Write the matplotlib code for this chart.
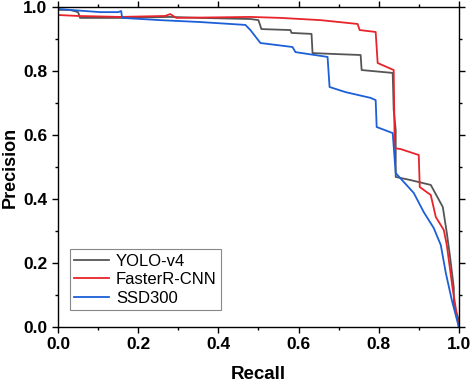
import numpy as np
import matplotlib
matplotlib.use('Agg')
import matplotlib.pyplot as plt
from matplotlib.ticker import MultipleLocator

plt.rcParams['font.family'] = ['Liberation Sans', 'DejaVu Sans']

# YOLO-v4
r_yolo = [0.0, 0.03, 0.05, 0.055, 0.155, 0.28, 0.355, 0.48, 0.50, 0.5075, 0.58, 0.5825,
          0.6325, 0.635, 0.6925, 0.755, 0.7575, 0.835, 0.8375, 0.8425, 0.8425, 0.88, 0.93,
          0.96, 0.97, 0.9775, 0.9875, 0.9875, 1.0, 1.0]
p_yolo = [0.991, 0.991, 0.984, 0.966, 0.966, 0.969, 0.966, 0.9625, 0.959, 0.931, 0.928, 0.919,
          0.916, 0.856, 0.853, 0.85, 0.803, 0.794, 0.678, 0.616, 0.469, 0.459, 0.444,
          0.375, 0.294, 0.225, 0.122, 0.069, 0.022, 0.0]

# FasterR-CNN
r_frcnn = [0.0, 0.05, 0.155, 0.2675, 0.28, 0.295, 0.48, 0.555, 0.655, 0.7475, 0.7525, 0.7925,
           0.7975, 0.8375, 0.84, 0.855, 0.9, 0.9025, 0.93, 0.9425, 0.9625, 0.97, 0.985, 1.0]
p_frcnn = [0.975, 0.972, 0.969, 0.972, 0.978, 0.966, 0.969, 0.966, 0.959, 0.947, 0.928, 0.922,
           0.825, 0.803, 0.559, 0.556, 0.5375, 0.4375, 0.4125, 0.344, 0.303, 0.256, 0.116, 0.0]

# SSD300
r_ssd = [0.0, 0.03, 0.105, 0.15, 0.1575, 0.16, 0.255, 0.355, 0.4675, 0.48, 0.505, 0.585,
         0.5925, 0.6725, 0.6775, 0.7175, 0.78, 0.7925, 0.795, 0.835, 0.8425, 0.8875, 0.9125,
         0.9375, 0.955, 0.9675, 0.9825, 1.0]
p_ssd = [0.994, 0.991, 0.984, 0.984, 0.9875, 0.966, 0.959, 0.953, 0.944, 0.928, 0.8875, 0.875,
         0.859, 0.844, 0.75, 0.734, 0.716, 0.709, 0.625, 0.606, 0.481, 0.419, 0.359,
         0.309, 0.256, 0.169, 0.084, 0.0]

fig = plt.figure(figsize=(4.74, 3.83), dpi=100)
ax = fig.add_axes([0.1224, 0.1462, 0.8456, 0.8355])

ax.plot(r_yolo, p_yolo, color='#555555', lw=1.3, label='YOLO-v4')
ax.plot(r_frcnn, p_frcnn, color='#e8232b', lw=1.3, label='FasterR-CNN')
ax.plot(r_ssd, p_ssd, color='#1c5fd8', lw=1.3, label='SSD300')

ax.set_xlim(0, 1)
ax.set_ylim(0, 1)
ax.xaxis.set_major_locator(MultipleLocator(0.2))
ax.xaxis.set_minor_locator(MultipleLocator(0.1))
ax.yaxis.set_major_locator(MultipleLocator(0.2))
ax.yaxis.set_minor_locator(MultipleLocator(0.1))
ax.tick_params(which='both', direction='out', top=True, right=True, width=1)
ax.tick_params(which='major', length=4, labelsize=12.5)
ax.tick_params(which='minor', length=2.5)
for lab in ax.get_xticklabels() + ax.get_yticklabels():
    lab.set_fontweight('bold')
for s in ax.spines.values():
    s.set_linewidth(1)

ax.set_xlabel('Recall', fontsize=13.5, fontweight='bold', labelpad=10)
ax.set_ylabel('Precision', fontsize=13, fontweight='bold', labelpad=3)

leg = ax.legend(loc='lower left', bbox_to_anchor=(0.03, 0.053), fontsize=12,
                fancybox=False, edgecolor='#888888', framealpha=1,
                handlelength=2.1, labelspacing=0.22, borderpad=0.25, handletextpad=0.4,
                borderaxespad=0)
leg.get_frame().set_linewidth(0.8)

fig.savefig('out.png', dpi=100)
